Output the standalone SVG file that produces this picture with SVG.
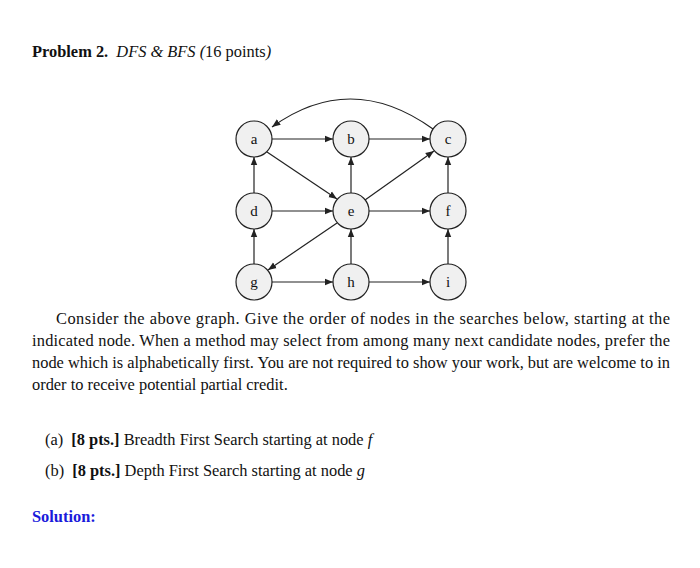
<svg xmlns="http://www.w3.org/2000/svg" width="700" height="568" viewBox="0 0 700 568">
<style>
text{font-family:"Liberation Serif",serif;font-size:16.4px;fill:#111}
.n circle{fill:#f0f0f0;stroke:#222;stroke-width:1.2}
.n text{font-size:15px;text-anchor:middle}
#edges path{stroke:#222;stroke-width:1.2;fill:none;marker-end:url(#ah)}
</style>
<defs><marker id="ah" viewBox="0 0 10 10" refX="10" refY="5" markerWidth="7" markerHeight="7" orient="auto"><path d="M0,1 L10,5 L0,9 z" fill="#222"/></marker></defs>
<rect width="700" height="568" fill="#fff"/>
<text x="32" y="57"><tspan font-weight="bold">Problem 2.</tspan> <tspan font-style="italic" dx="4">DFS &amp; BFS</tspan> <tspan font-style="italic">(</tspan>16 points<tspan font-style="italic">)</tspan></text>
<g id="edges">
<path d="M433,129 Q351,70 272,127"/>
<path d="M272,139 H333"/>
<path d="M369,139 H430"/>
<path d="M267,152 L337,199"/>
<path d="M254,193 V157"/>
<path d="M272,211 H333"/>
<path d="M351,193 V157"/>
<path d="M365,200 L434,151"/>
<path d="M369,211 H430"/>
<path d="M448,193 V157"/>
<path d="M337,223 L268,270"/>
<path d="M254,264 V229"/>
<path d="M351,264 V229"/>
<path d="M448,264 V229"/>
<path d="M272,282 H333"/>
<path d="M369,282 H430"/>
</g>
<g id="a" class="n"><circle cx="254" cy="139" r="18"/><text x="254" y="144">a</text></g>
<g id="b" class="n"><circle cx="351" cy="139" r="18"/><text x="351" y="144">b</text></g>
<g id="c" class="n"><circle cx="448" cy="139" r="18"/><text x="448" y="144">c</text></g>
<g id="d" class="n"><circle cx="254" cy="211" r="18"/><text x="254" y="216">d</text></g>
<g id="e" class="n"><circle cx="351" cy="211" r="18"/><text x="351" y="216">e</text></g>
<g id="f" class="n"><circle cx="448" cy="211" r="18"/><text x="448" y="216">f</text></g>
<g id="g" class="n"><circle cx="254" cy="282" r="18"/><text x="254" y="287">g</text></g>
<g id="h" class="n"><circle cx="351" cy="282" r="18"/><text x="351" y="287">h</text></g>
<g id="i" class="n"><circle cx="448" cy="282" r="18"/><text x="448" y="287">i</text></g>
<text x="56" y="324" textLength="614" lengthAdjust="spacing">Consider the above graph. Give the order of nodes in the searches below, starting at the</text>
<text x="32" y="346" textLength="638" lengthAdjust="spacing">indicated node. When a method may select from among many next candidate nodes, prefer the</text>
<text x="32" y="368" textLength="638" lengthAdjust="spacing">node which is alphabetically first. You are not required to show your work, but are welcome to in</text>
<text x="32" y="390">order to receive potential partial credit.</text>
<text x="45" y="445">(a) <tspan font-weight="bold" dx="4">[8 pts.]</tspan> Breadth First Search starting at node <tspan font-style="italic">f</tspan></text>
<text x="45" y="476">(b) <tspan font-weight="bold" dx="4">[8 pts.]</tspan> Depth First Search starting at node <tspan font-style="italic">g</tspan></text>
<text x="32" y="522" font-weight="bold" style="fill:#1a1adb">Solution:</text>
</svg>
